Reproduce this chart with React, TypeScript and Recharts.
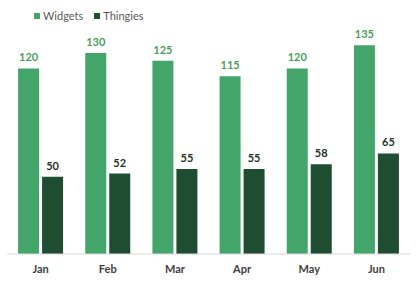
import React from "react";
import { BarChart, Bar, XAxis, YAxis, Legend, LabelList } from "recharts";

const months = ["Jan", "Feb", "Mar", "Apr", "May", "Jun"];
const widgets = [120, 130, 125, 115, 120, 135];
const thingies = [50, 52, 55, 55, 58, 65];

const data = months.map((m, i) => ({ month: m, Widgets: widgets[i], Thingies: thingies[i] }));

const WIDGET_COLOR = "#44a56b";
const THINGY_COLOR = "#1e4d32";
const FONT = "Lato, 'Open Sans', sans-serif";

const LegendContent = () => (
  <div style={{ display: "flex", alignItems: "center", paddingLeft: 27, paddingTop: 9, fontFamily: FONT, fontSize: 11, color: "#595959" }}>
    {[
      { name: "Widgets", color: WIDGET_COLOR },
      { name: "Thingies", color: THINGY_COLOR },
    ].map((e) => (
      <div key={e.name} style={{ display: "flex", alignItems: "center", marginRight: 11 }}>
        <span style={{ display: "inline-block", width: 6, height: 6, background: e.color, marginRight: 3 }} />
        <span>{e.name}</span>
      </div>
    ))}
  </div>
);

export default function App() {
  return (
    <div style={{ position: "absolute", left: 0, top: 0, width: 418, height: 281, background: "#fff" }}>
      <BarChart
        width={418}
        height={281}
        data={data}
        margin={{ top: 0, right: 8, left: 7, bottom: 7 }}
        barCategoryGap="16.5%"
        barGap={3}
      >
        <Legend verticalAlign="top" align="left" height={22} content={<LegendContent />} />
        <YAxis hide domain={[0, 150]} />
        <XAxis
          dataKey="month"
          height={20}
          tickLine={false}
          axisLine={{ stroke: "#d9d9d9" }}
          tick={{ fill: "#404040", fontSize: 11, fontWeight: 700, fontFamily: FONT, dy: 3 }}
        />
        <Bar dataKey="Widgets" fill={WIDGET_COLOR} isAnimationActive={false}>
          <LabelList dataKey="Widgets" position="top" offset={7} fill="#4a9e5c" fontSize={11} fontWeight={700} fontFamily={FONT} />
        </Bar>
        <Bar dataKey="Thingies" fill={THINGY_COLOR} isAnimationActive={false}>
          <LabelList dataKey="Thingies" position="top" offset={7} fill="#1f3326" fontSize={11} fontWeight={700} fontFamily={FONT} />
        </Bar>
      </BarChart>
    </div>
  );
}
